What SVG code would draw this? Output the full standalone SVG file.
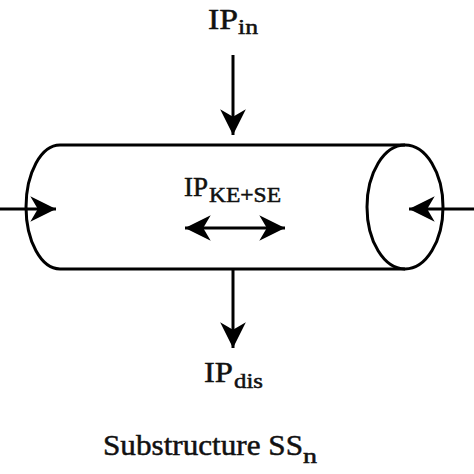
<svg xmlns="http://www.w3.org/2000/svg" width="474" height="474" viewBox="0 0 474 474">
<style>
.ln{fill:none;stroke:#000;stroke-width:3}
text{font-family:'Liberation Serif','DejaVu Serif','Times New Roman',serif;fill:#111;stroke:#111;stroke-width:0.5}
</style>
<defs>
<marker id="ah" markerUnits="userSpaceOnUse" markerWidth="30" markerHeight="30" viewBox="-26 -14 28 28" refX="0" refY="0" orient="auto-start-reverse">
<path d="M0,0 L-24,-12 L-17,0 L-24,12 Z" fill="#000"/>
</marker>
</defs>
<rect width="474" height="474" fill="#fff"/>
<g id="cylinder">
<path class="ln" d="M405,145 L60,145 A34,62 0 0 0 60,269 L405,269"/>
<ellipse class="ln" cx="405" cy="207" rx="38" ry="62"/>
</g>
<g id="connectors">
<line class="ln" x1="233" y1="55" x2="233" y2="135" marker-end="url(#ah)"/>
<line class="ln" x1="233" y1="269" x2="233" y2="348" marker-end="url(#ah)"/>
<line class="ln" x1="0" y1="209" x2="56" y2="209" marker-end="url(#ah)"/>
<line class="ln" x1="474" y1="209" x2="409" y2="209" marker-end="url(#ah)"/>
<line class="ln" x1="185" y1="228" x2="285" y2="228" marker-start="url(#ah)" marker-end="url(#ah)"/>
</g>
<g id="label-in">
<text x="208" y="29" font-size="30" textLength="30" lengthAdjust="spacingAndGlyphs">IP</text>
<text x="238" y="34" font-size="21" textLength="20" lengthAdjust="spacingAndGlyphs">in</text>
</g>
<g id="label-kese">
<text x="184" y="196" font-size="27" textLength="24" lengthAdjust="spacingAndGlyphs">IP</text>
<text x="209" y="202" font-size="21" textLength="72" lengthAdjust="spacingAndGlyphs">KE+SE</text>
</g>
<g id="label-dis">
<text x="204" y="382" font-size="30" textLength="29" lengthAdjust="spacingAndGlyphs">IP</text>
<text x="234" y="388" font-size="21" textLength="29" lengthAdjust="spacingAndGlyphs">dis</text>
</g>
<g id="caption">
<text x="103" y="455" font-size="30" textLength="200" lengthAdjust="spacingAndGlyphs">Substructure SS</text>
<text x="303" y="463" font-size="20" textLength="14" lengthAdjust="spacingAndGlyphs">n</text>
</g>
</svg>
